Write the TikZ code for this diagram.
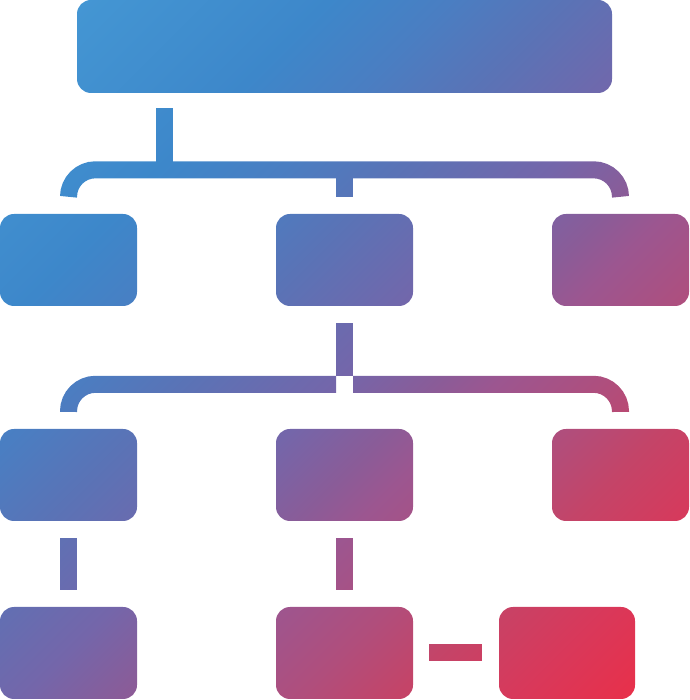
\documentclass[tikz,border=0pt]{standalone}
\definecolor{gradA}{HTML}{4A9BD7}
\definecolor{gradB}{HTML}{4496D3}
\definecolor{gradC}{HTML}{3D87CA}
\definecolor{gradD}{HTML}{4A7EC2}
\definecolor{gradE}{HTML}{5A73B6}
\definecolor{gradF}{HTML}{7466AA}
\definecolor{gradG}{HTML}{8A5C98}
\definecolor{gradH}{HTML}{9C5690}
\definecolor{gradI}{HTML}{B04E7C}
\definecolor{gradJ}{HTML}{C44468}
\definecolor{gradK}{HTML}{D9385A}
\definecolor{gradL}{HTML}{E8304A}
\definecolor{gradM}{HTML}{EC2C46}
\pgfdeclarehorizontalshading{chartgrad}{100bp}{color(0bp)=(gradA); color(14bp)=(gradA);
  color(19bp)=(gradB); color(31.5bp)=(gradC); color(37.6bp)=(gradD); color(43.5bp)=(gradE);
  color(51.3bp)=(gradF); color(56.3bp)=(gradG); color(59.4bp)=(gradH); color(65.3bp)=(gradI);
  color(70.2bp)=(gradJ); color(76.5bp)=(gradK); color(82.3bp)=(gradL); color(86bp)=(gradM);
  color(100bp)=(gradM)}
\tikzset{
  box/.style={fill=black, rounded corners=14pt, minimum width=137pt, minimum height=92pt, inner sep=0pt},
  link/.style={draw=black, line width=17pt},
}
\begin{document}
\begin{tikzpicture}[x=1pt, y=1pt]
\useasboundingbox (0,0) rectangle (689,700);
\fill[white] (-10,-10) rectangle (700,710);
\node[box, minimum width=535pt, minimum height=93pt] (top) at (344.5,653.5) {};
\node[box] (c1l) at (68.5,440) {};
\node[box] (c1m) at (344.5,440) {};
\node[box] (c1r) at (620.5,440) {};
\node[box] (c2l) at (68.5,225) {};
\node[box] (c2m) at (344.5,225) {};
\node[box] (c2r) at (620.5,225) {};
\node[box] (c3l) at (68.5,47) {};
\node[box] (c3m) at (344.5,47) {};
\node[box, minimum width=136pt] (c3r) at (567,47) {};
\draw[link] ([xshift=-180.5pt, yshift=-15pt]top.south) -- ([xshift=-180.5pt, yshift=-77pt]top.south);
\draw[link, rounded corners=27pt] ([yshift=17pt]c1l.north) |- ([yshift=44pt]c1r.north) -- ([yshift=17pt]c1r.north);
\draw[link] ([yshift=17pt]c1m.north) -- ([yshift=44pt]c1m.north);
\draw[link] ([yshift=-17pt]c1m.south) -- ([yshift=53pt]c2m.north);
\draw[link, rounded corners=27pt] ([yshift=17pt]c2l.north) |- ([xshift=-8.5pt, yshift=44.5pt]c2m.north);
\draw[link, rounded corners=27pt] ([xshift=8.5pt, yshift=44.5pt]c2m.north) -| ([yshift=17pt]c2r.north);
\draw[link, shorten <=17pt, shorten >=17pt] (c2l.south) -- (c3l.north);
\draw[link, shorten <=17pt, shorten >=17pt] (c2m.south) -- (c3m.north);
\draw[link, shorten <=16pt, shorten >=17pt] (c3m.east) -- (c3r.west);
\shade[shading=chartgrad, shading angle=-45, blend mode=screen] (-5.5,0) rectangle (694.5,700);
\end{tikzpicture}
\end{document}
